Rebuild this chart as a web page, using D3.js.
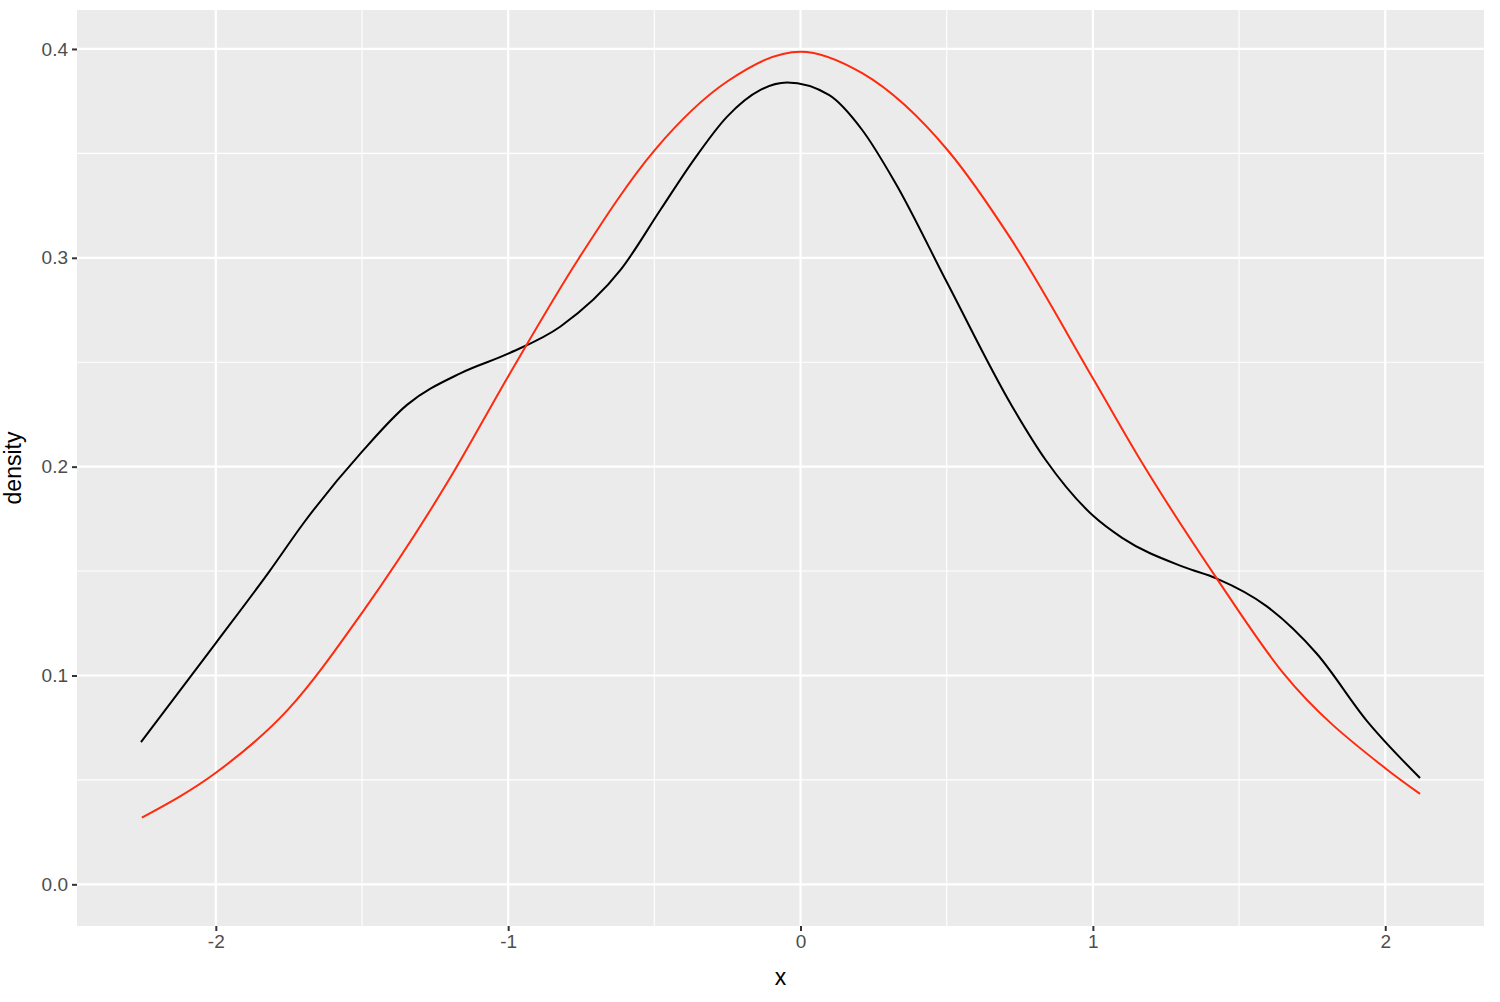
<!DOCTYPE html>
<html>
<head>
<meta charset="utf-8">
<script src="https://cdn.jsdelivr.net/npm/d3@7"></script>
<style>
  body { margin: 0; background: #fff; }
  svg text { font-family: "Liberation Sans", Arial, sans-serif; }
</style>
</head>
<body>
<svg width="1500" height="1002"></svg>
<script>
// values
const densityX = [-2.256, -2.0, -1.816, -1.697, -1.499, -1.345, -1.162, -1.0, -0.821, -0.615, -0.479, -0.365, -0.251, -0.137, -0.046, 0.097, 0.211, 0.325, 0.502, 0.724, 0.838, 1.003, 1.100, 1.31, 1.424, 1.595, 1.766, 1.937, 2.119];
const densityY = [0.0681, 0.1155, 0.150, 0.1735, 0.2073, 0.2297, 0.2448, 0.2541, 0.2671, 0.2943, 0.323, 0.3469, 0.3676, 0.3804, 0.3839, 0.378, 0.3612, 0.3357, 0.2879, 0.2288, 0.2033, 0.1762, 0.1659, 0.152, 0.1464, 0.1331, 0.1104, 0.0783, 0.0509];
const normalX = [-2.253, -2.0, -1.754, -1.5, -1.202, -1.0, -0.758, -0.498, -0.251, 0.0, 0.211, 0.507, 0.718, 1.003, 1.162, 1.424, 1.652, 2.0, 2.119];
const normalY = [0.0319, 0.0534, 0.0835, 0.130, 0.1938, 0.2432, 0.2998, 0.3517, 0.3844, 0.3987, 0.3884, 0.3509, 0.3094, 0.2416, 0.2033, 0.1464, 0.101, 0.0556, 0.0433];
const xTicks = [-2, -1, 0, 1, 2];
const xMinor = [-1.5, -0.5, 0.5, 1.5];
const yTicks = [0.0, 0.1, 0.2, 0.3, 0.4];
const yMinor = [0.05, 0.15, 0.25, 0.35];

const svg = d3.select("svg");
const pLeft = 77, pRight = 1484, pTop = 10, pBottom = 926;

// panel range padded like ggplot (5% each side)
const xScale = d3.scaleLinear().domain([-2.256 - 0.2188, 2.119 + 0.2188]).range([pLeft, pRight]);
const yScale = d3.scaleLinear().domain([0 - 0.01995, 0.3987 + 0.01995]).range([pBottom, pTop]);

svg.append("rect")
  .attr("x", pLeft).attr("y", pTop)
  .attr("width", pRight - pLeft).attr("height", pBottom - pTop)
  .attr("fill", "#EBEBEB");

const grid = svg.append("g");
grid.selectAll(".ymin").data(yMinor).enter().append("line")
  .attr("x1", pLeft).attr("x2", pRight)
  .attr("y1", d => yScale(d)).attr("y2", d => yScale(d))
  .attr("stroke", "#fff").attr("stroke-width", 1.1);
grid.selectAll(".xmin").data(xMinor).enter().append("line")
  .attr("y1", pTop).attr("y2", pBottom)
  .attr("x1", d => xScale(d)).attr("x2", d => xScale(d))
  .attr("stroke", "#fff").attr("stroke-width", 1.1);
grid.selectAll(".ymaj").data(yTicks).enter().append("line")
  .attr("x1", pLeft).attr("x2", pRight)
  .attr("y1", d => yScale(d)).attr("y2", d => yScale(d))
  .attr("stroke", "#fff").attr("stroke-width", 2.2);
grid.selectAll(".xmaj").data(xTicks).enter().append("line")
  .attr("y1", pTop).attr("y2", pBottom)
  .attr("x1", d => xScale(d)).attr("x2", d => xScale(d))
  .attr("stroke", "#fff").attr("stroke-width", 2.2);

// axes
const xAxis = svg.append("g")
  .attr("transform", `translate(0,${pBottom})`)
  .call(d3.axisBottom(xScale).tickValues(xTicks).tickSize(5).tickPadding(4).tickFormat(d3.format("d")));
const yAxis = svg.append("g")
  .attr("transform", `translate(${pLeft},0)`)
  .call(d3.axisLeft(yScale).tickValues(yTicks).tickSize(5).tickPadding(4).tickFormat(d3.format(".1f")));
[xAxis, yAxis].forEach(a => {
  a.select(".domain").remove();
  a.selectAll(".tick line").attr("stroke", "#333").attr("stroke-width", 2);
  a.selectAll(".tick text").attr("fill", "#4D4D4D").style("font-size", "19px")
    .text(function () { return d3.select(this).text().replace("−", "-"); });
});

// curves
const line = d3.line()
  .x(d => xScale(d[0]))
  .y(d => yScale(d[1]))
  .curve(d3.curveMonotoneX);

svg.append("path")
  .datum(densityX.map((x, i) => [x, densityY[i]]))
  .attr("d", line)
  .attr("fill", "none").attr("stroke", "#000").attr("stroke-width", 2);

svg.append("path")
  .datum(normalX.map((x, i) => [x, normalY[i]]))
  .attr("d", line)
  .attr("fill", "none").attr("stroke", "#FF2A0E").attr("stroke-width", 2);

// axis titles
svg.append("text")
  .attr("x", (pLeft + pRight) / 2).attr("y", 985)
  .attr("text-anchor", "middle")
  .style("font-size", "23px").attr("fill", "#000")
  .text("x");
svg.append("text")
  .attr("transform", `translate(21,${(pTop + pBottom) / 2}) rotate(-90)`)
  .attr("text-anchor", "middle")
  .style("font-size", "23px").attr("fill", "#000")
  .text("density");
</script>
</body>
</html>
